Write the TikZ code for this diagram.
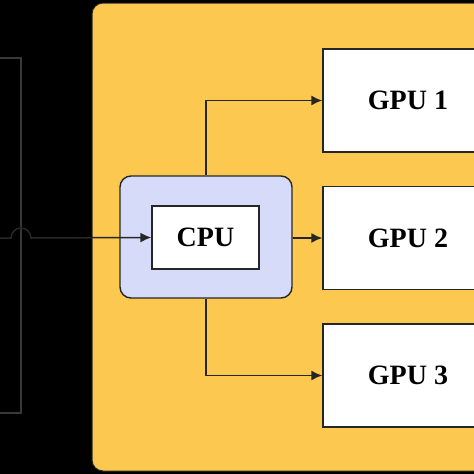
\documentclass[tikz,border=0pt]{standalone}
\usepackage{fontspec}
\setmainfont{Liberation Serif}
\usetikzlibrary{arrows.meta}

\definecolor{boardyellow}{HTML}{FCC850}
\definecolor{hostlilac}{HTML}{D7DBFA}
\definecolor{wirecolor}{HTML}{262626}

\tikzset{
    unitbox/.style={draw=wirecolor, line width=1.4pt, fill=white, inner sep=0pt,
        font=\fontsize{28}{30}\selectfont\bfseries},
    wire/.style={draw=wirecolor, line width=1.5pt},
    feed/.style={wire, -{Latex[length=11pt,width=10pt]}}
}

\begin{document}
\begin{tikzpicture}[x=1pt, y=-1pt]
                % 1. Black background and picture size
                \useasboundingbox (0,0) rectangle (474,474);
                \fill[black] (0,0) rectangle (474,474);
                \clip (0,0) rectangle (474,474);

                % 2. Yellow board (runs off the right edge)
                \draw[draw=wirecolor, line width=1pt, fill=boardyellow, rounded corners=11pt]
                    (92,3) rectangle (520,471);

                % 3. Bus line on the left
                \draw[wire, draw=black!78] (0,58) -- (21,58) -- (21,413) -- (0,413);

                % 4. Host box with the CPU inside
                \node[draw=wirecolor, line width=1.4pt, fill=hostlilac, rounded corners=11pt,
                      minimum width=172pt, minimum height=122pt] (host) at (206,237) {};
                \node[unitbox, minimum width=107pt, minimum height=63pt] (cpu) at (205.5,237.5) {CPU};

                % 5. The three GPU boxes (y = middle of each box)
                \foreach \i/\y in {1/100.5, 2/238, 3/375.5} {
                    \node[unitbox, minimum width=170pt, minimum height=103pt] (gpu-\i) at (408,\y) {GPU \i};
                }

                % 6. Connectors
                \coordinate (in) at (0,238);
                \draw[feed] (in) -- (11,238) arc[start angle=180, end angle=0, radius=10pt] -- (cpu.west);
                \draw[feed] (host.east |- gpu-2.west) -- (gpu-2.west);
                \draw[feed] (host.north) |- (gpu-1.west);
                \draw[feed] (host.south) |- (gpu-3.west);
            \end{tikzpicture}
\end{document}
